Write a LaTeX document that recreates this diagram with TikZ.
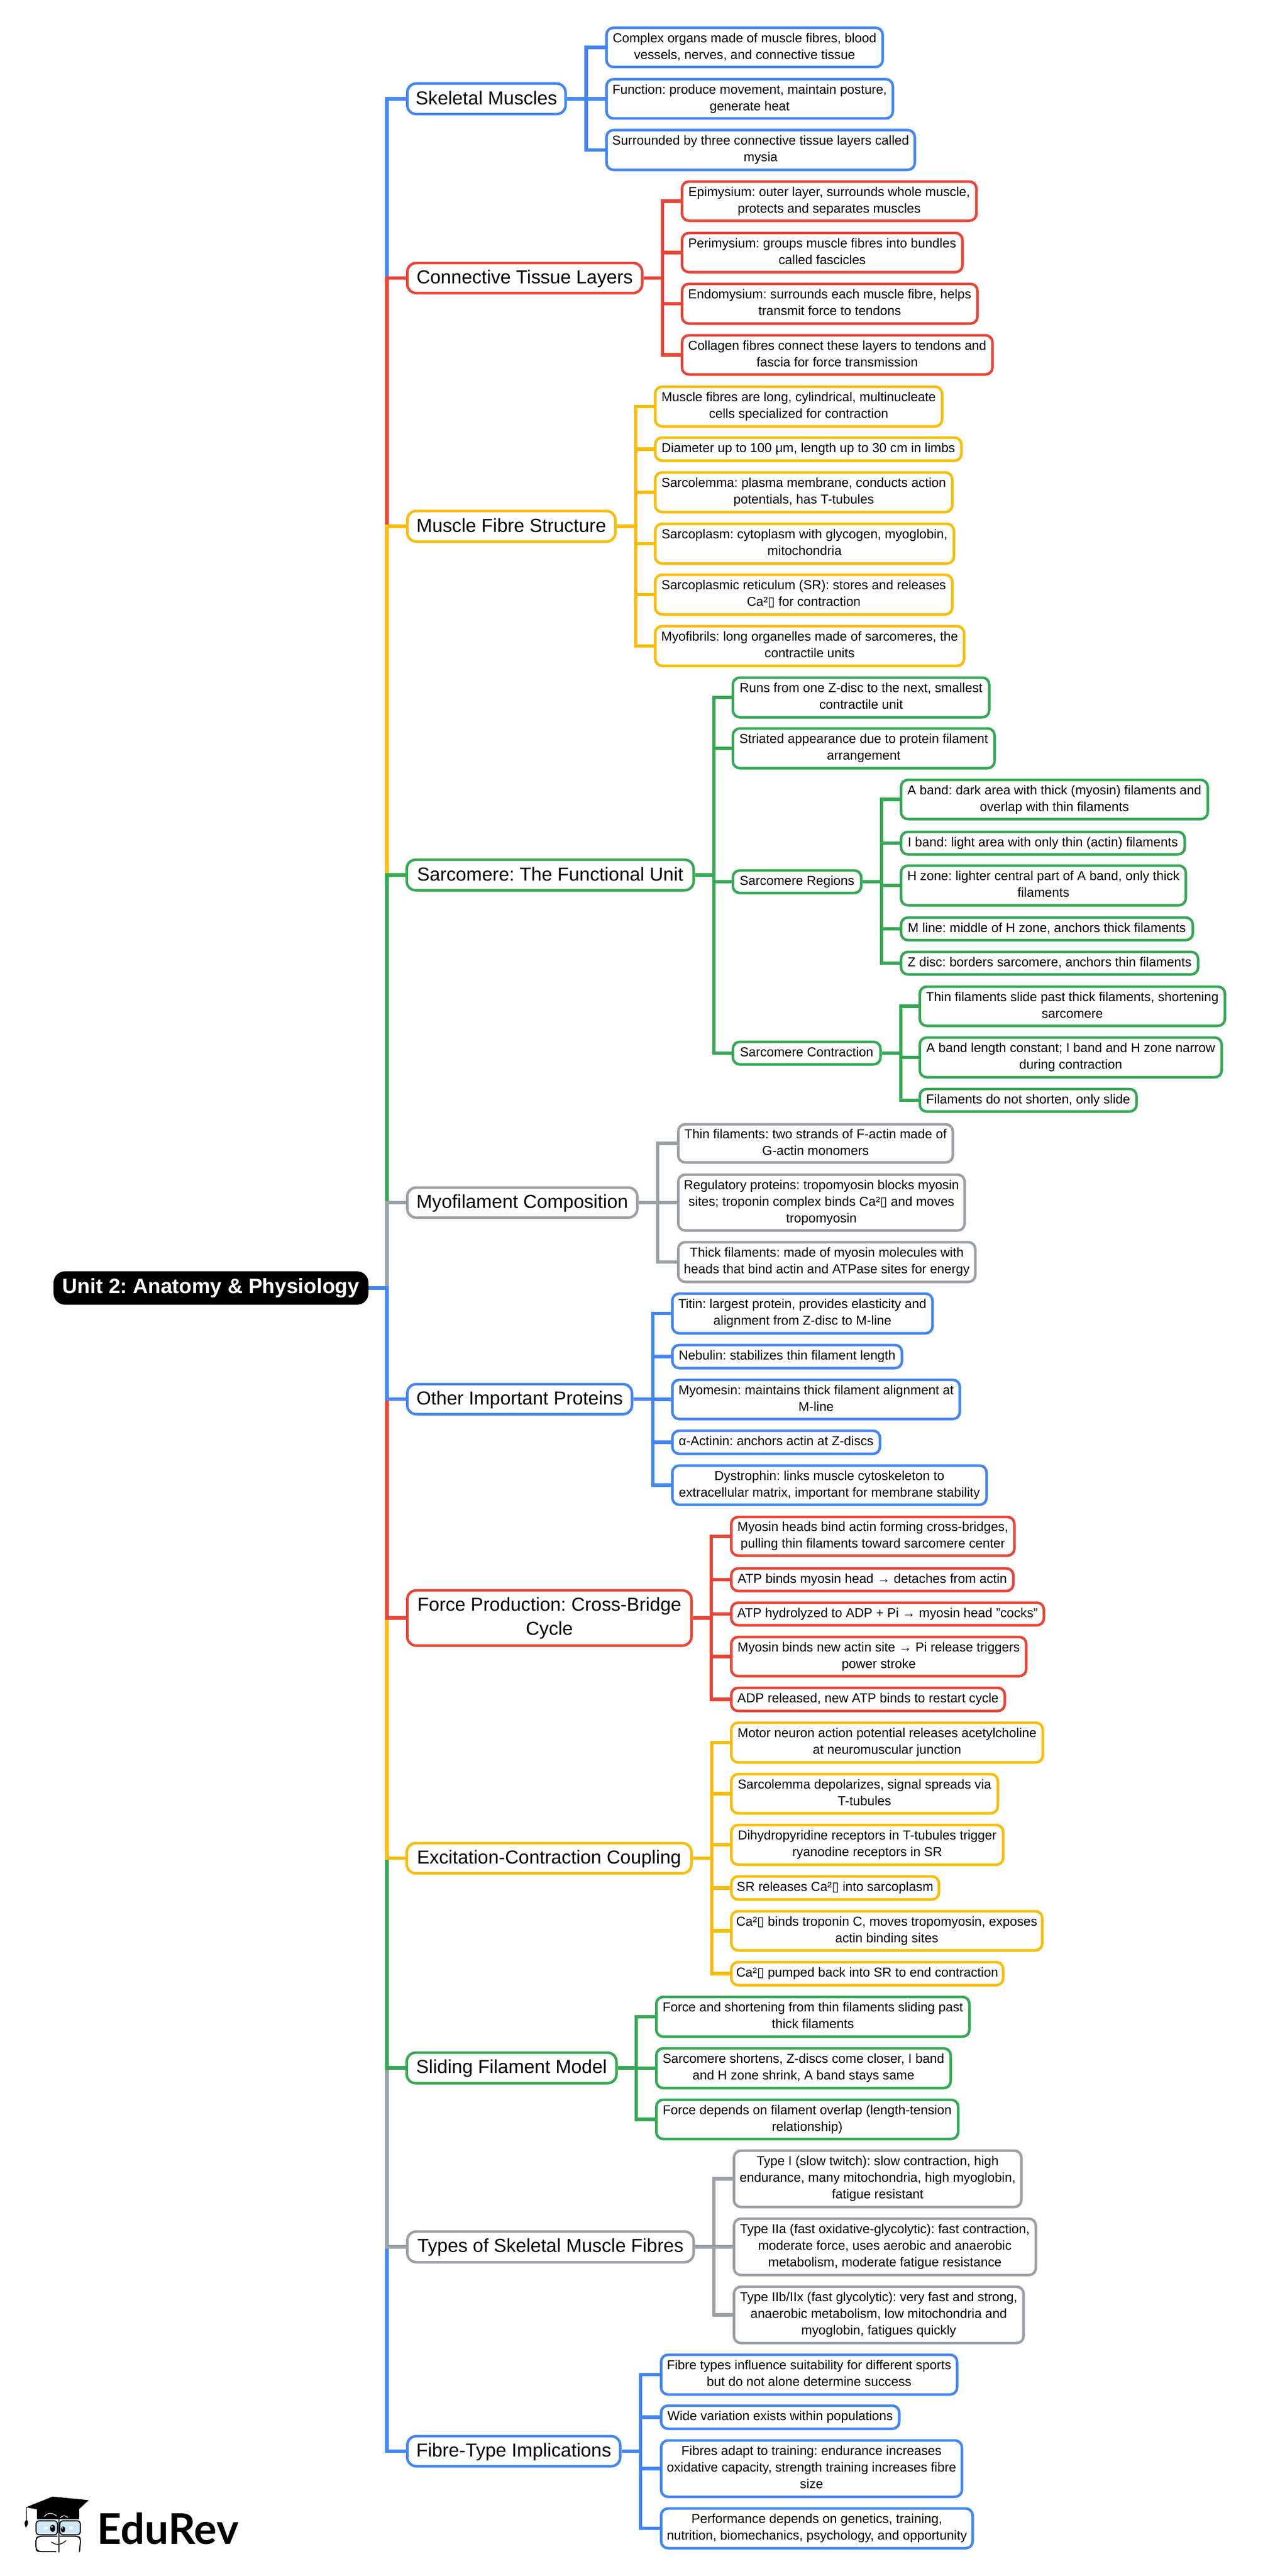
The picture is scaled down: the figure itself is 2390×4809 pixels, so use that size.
\documentclass[tikz,border=0pt]{standalone}
\usepackage{fontspec}
\setmainfont{Liberation Sans}
\newfontfamily\tofufont{DejaVu Sans}
\newfontfamily\logofont{Lato}
\definecolor{cblue}{HTML}{4285F4}
\definecolor{cred}{HTML}{EA4335}
\definecolor{cyel}{HTML}{FBBC04}
\definecolor{cgrn}{HTML}{34A853}
\definecolor{cgry}{HTML}{9AA0A6}
\definecolor{glass}{HTML}{CFE6F7}
\pgfdeclarelayer{wires}
\pgfsetlayers{wires,main}
\frenchspacing
\newcommand{\tofu}{{\tofufont ▯}}
\newcommand{\mk}[7]{%
  \pgfmathsetmacro{\cxx}{(#2-3+#4+2.5)/2}%
  \pgfmathsetmacro{\cyy}{(#3+#5)/2}%
  \pgfmathsetmacro{\ww}{#4+2.5-#2+3-4.8}%
  \pgfmathsetmacro{\hh}{#5+1.5-#3+1.5-4.8}%
  \node[#6,minimum width=\ww bp,minimum height=\hh bp] (#1) at (\cxx,\cyy) {#7};}
\newcommand{\lnk}[4]{\draw[wire,#4] (#1.east) -- (#1.east -| #3) |- (#2.west);}
\tikzset{
  box/.style={draw,fill=white,line width=4.8bp,inner sep=0pt,align=center,text=black},
  leaf/.style={box,rounded corners=13bp,font=\fontsize{24.2bp}{31bp}\selectfont\frenchspacing,
    execute at begin node={\rule{0pt}{18bp}},execute at end node={\rule[-5.4bp]{0pt}{5.4bp}}},
  mainb/.style={box,rounded corners=17bp,font=\fontsize{35.2bp}{45bp}\selectfont\frenchspacing,
    execute at begin node={\rule{0pt}{28bp}},execute at end node={\rule[-6.5bp]{0pt}{6.5bp}}},
  rootb/.style={draw=black,fill=black,line width=4.8bp,rounded corners=19bp,inner sep=0pt,text=white,font=\fontsize{38.8bp}{46bp}\selectfont\bfseries\frenchspacing,
    execute at begin node={\rule{0pt}{28bp}},execute at end node={\rule[-5bp]{0pt}{5bp}}},
  wire/.style={line width=6.2bp,line join=miter},
}
\begin{document}
\begin{tikzpicture}[x=1bp,y=-1bp]
\useasboundingbox (0,0) rectangle (2390,4809);

% bus coordinates
\coordinate (trunk) at (722.5,0);
\coordinate (b1) at (1094.5,0); \coordinate (b2) at (1237,0); \coordinate (b3) at (1187,0);
\coordinate (b4) at (1333,0); \coordinate (b4a) at (1646,0); \coordinate (b4b) at (1682,0);
\coordinate (b5) at (1228,0); \coordinate (b6) at (1219,0); \coordinate (b7) at (1328,0);
\coordinate (b8) at (1329,0); \coordinate (b9) at (1188,0); \coordinate (b10) at (1333,0);
\coordinate (b11) at (1196,0);

% nodes
\mk{root}{103}{2374.8}{685.5}{2434.2}{rootb}{Unit 2: Anatomy \& Physiology}

\mk{skel}{761}{155}{1056}{214}{mainb,draw=cblue}{Skeletal Muscles}
\mk{s1}{1133}{51}{1648}{126}{leaf,draw=cblue}{Complex organs made of muscle fibres, blood\\vessels, nerves, and connective tissue}
\mk{s2}{1133}{147}{1667}{222}{leaf,draw=cblue}{Function: produce movement, maintain posture,\\generate heat}
\mk{s3}{1133}{242}{1708}{318}{leaf,draw=cblue}{Surrounded by three connective tissue layers called\\mysia}

\mk{conn}{761}{490}{1199}{548}{mainb,draw=cred}{Connective Tissue Layers}
\mk{c1}{1274}{338}{1823}{413}{leaf,draw=cred}{Epimysium: outer layer, surrounds whole muscle,\\protects and separates muscles}
\mk{c2}{1274}{434}{1797}{509}{leaf,draw=cred}{Perimysium: groups muscle fibres into bundles\\called fascicles}
\mk{c3}{1274}{529}{1825}{605}{leaf,draw=cred}{Endomysium: surrounds each muscle fibre, helps\\transmit force to tendons}
\mk{c4}{1274}{625}{1853}{700}{leaf,draw=cred}{Collagen fibres connect these layers to tendons and\\fascia for force transmission}

\mk{fib}{761}{953}{1149}{1012}{mainb,draw=cyel}{Muscle Fibre Structure}
\mk{f1}{1224}{721}{1759}{797}{leaf,draw=cyel}{Muscle fibres are long, cylindrical, multinucleate\\cells specialized for contraction}
\mk{f2}{1224}{816}{1795}{861}{leaf,draw=cyel}{Diameter up to 100 μm, length up to 30 cm in limbs}
\mk{f3}{1224}{881}{1778}{957}{leaf,draw=cyel}{Sarcolemma: plasma membrane, conducts action\\potentials, has T-tubules}
\mk{f4}{1224}{977}{1781}{1053}{leaf,draw=cyel}{Sarcoplasm: cytoplasm with glycogen, myoglobin,\\mitochondria}
\mk{f5}{1224}{1072}{1778}{1148}{leaf,draw=cyel}{Sarcoplasmic reticulum (SR): stores and releases\\Ca²\tofu{} for contraction}
\mk{f6}{1224}{1168}{1800}{1244}{leaf,draw=cyel}{Myofibrils: long organelles made of sarcomeres, the\\contractile units}

\mk{sar}{760}{1604}{1295}{1663}{mainb,draw=cgrn}{Sarcomere: The Functional Unit}
\mk{r1}{1369}{1264}{1847}{1340}{leaf,draw=cgrn}{Runs from one Z-disc to the next, smallest\\contractile unit}
\mk{r2}{1369}{1359}{1857}{1435}{leaf,draw=cgrn}{Striated appearance due to protein filament\\arrangement}
\mk{reg}{1369}{1624}{1608}{1668}{leaf,draw=cgrn}{Sarcomere Regions}
\mk{g1}{1683}{1455}{2255}{1530}{leaf,draw=cgrn}{A band: dark area with thick (myosin) filaments and\\overlap with thin filaments}
\mk{g2}{1683}{1552}{2212}{1596}{leaf,draw=cgrn}{I band: light area with only thin (actin) filaments}
\mk{g3}{1683}{1615}{2214}{1691}{leaf,draw=cgrn}{H zone: lighter central part of A band, only thick\\filaments}
\mk{g4}{1683}{1712}{2227}{1756}{leaf,draw=cgrn}{M line: middle of H zone, anchors thick filaments}
\mk{g5}{1683}{1776}{2237}{1820}{leaf,draw=cgrn}{Z disc: borders sarcomere, anchors thin filaments}
\mk{con}{1369}{1944}{1644}{1988}{leaf,draw=cgrn}{Sarcomere Contraction}
\mk{k1}{1718}{1841}{2287}{1916}{leaf,draw=cgrn}{Thin filaments slide past thick filaments, shortening\\sarcomere}
\mk{k2}{1718}{1936}{2281}{2012}{leaf,draw=cgrn}{A band length constant; I band and H zone narrow\\during contraction}
\mk{k3}{1718}{2032}{2122}{2076}{leaf,draw=cgrn}{Filaments do not shorten, only slide}

\mk{myo}{761}{2216}{1190}{2274}{mainb,draw=cgry}{Myofilament Composition}
\mk{m1}{1267}{2098}{1779}{2171}{leaf,draw=cgry}{Thin filaments: two strands of F-actin made of\\G-actin monomers}
\mk{m2}{1267}{2192}{1801}{2298}{leaf,draw=cgry}{Regulatory proteins: tropomyosin blocks myosin\\sites; troponin complex binds Ca²\tofu{} and moves\\tropomyosin}
\mk{m3}{1267}{2318}{1821}{2394}{leaf,draw=cgry}{Thick filaments: made of myosin molecules with\\heads that bind actin and ATPase sites for energy}

\mk{oth}{761}{2583}{1180}{2641}{mainb,draw=cblue}{Other Important Proteins}
\mk{o1}{1256}{2414}{1741}{2490}{leaf,draw=cblue}{Titin: largest protein, provides elasticity and\\alignment from Z-disc to M-line}
\mk{o2}{1256}{2510}{1684}{2555}{leaf,draw=cblue}{Nebulin: stabilizes thin filament length}
\mk{o3}{1256}{2575}{1792}{2650}{leaf,draw=cblue}{Myomesin: maintains thick filament alignment at\\M-line}
\mk{o4}{1256}{2670}{1643}{2715}{leaf,draw=cblue}{α-Actinin: anchors actin at Z-discs}
\mk{o5}{1256}{2735}{1842}{2810}{leaf,draw=cblue}{Dystrophin: links muscle cytoskeleton to\\extracellular matrix, important for membrane stability}

\mk{frc}{761}{2968}{1291}{3073}{mainb,draw=cred}{Force Production: Cross-Bridge\\Cycle}
\mk{p1}{1366}{2831}{1894}{2905}{leaf,draw=cred}{Myosin heads bind actin forming cross-bridges,\\pulling thin filaments toward sarcomere center}
\mk{p2}{1366}{2927}{1892}{2971}{leaf,draw=cred}{ATP binds myosin head → detaches from actin}
\mk{p3}{1366}{2991}{1949}{3035}{leaf,draw=cred}{ATP hydrolyzed to ADP + Pi → myosin head "cocks"}
\mk{p4}{1366}{3055}{1916}{3130}{leaf,draw=cred}{Myosin binds new actin site → Pi release triggers\\power stroke}
\mk{p5}{1366}{3150}{1876}{3195}{leaf,draw=cred}{ADP released, new ATP binds to restart cycle}

\mk{exc}{760}{3440}{1291}{3498}{mainb,draw=cyel}{Excitation-Contraction Coupling}
\mk{e1}{1366}{3215}{1947}{3291}{leaf,draw=cyel}{Motor neuron action potential releases acetylcholine\\at neuromuscular junction}
\mk{e2}{1366}{3311}{1863}{3386}{leaf,draw=cyel}{Sarcolemma depolarizes, signal spreads via\\T-tubules}
\mk{e3}{1366}{3406}{1873}{3482}{leaf,draw=cyel}{Dihydropyridine receptors in T-tubules trigger\\ryanodine receptors in SR}
\mk{e4}{1366}{3502}{1753}{3547}{leaf,draw=cyel}{SR releases Ca²\tofu{} into sarcoplasm}
\mk{e5}{1366}{3567}{1946}{3642}{leaf,draw=cyel}{Ca²\tofu{} binds troponin C, moves tropomyosin, exposes\\actin binding sites}
\mk{e6}{1366}{3662}{1873}{3707}{leaf,draw=cyel}{Ca²\tofu{} pumped back into SR to end contraction}

\mk{sld}{760}{3831}{1151}{3890}{mainb,draw=cgrn}{Sliding Filament Model}
\mk{l1}{1226}{3727}{1810}{3803}{leaf,draw=cgrn}{Force and shortening from thin filaments sliding past\\thick filaments}
\mk{l2}{1226}{3823}{1775}{3899}{leaf,draw=cgrn}{Sarcomere shortens, Z-discs come closer, I band\\and H zone shrink, A band stays same}
\mk{l3}{1226}{3919}{1789}{3994}{leaf,draw=cgrn}{Force depends on filament overlap (length-tension\\relationship)}

\mk{typ}{761}{4165}{1295}{4224}{mainb,draw=cgry}{Types of Skeletal Muscle Fibres}
\mk{t1}{1371}{4014}{1907}{4121}{leaf,draw=cgry}{Type I (slow twitch): slow contraction, high\\endurance, many mitochondria, high myoglobin,\\fatigue resistant}
\mk{t2}{1371}{4141}{1934}{4248}{leaf,draw=cgry}{Type IIa (fast oxidative-glycolytic): fast contraction,\\moderate force, uses aerobic and anaerobic\\metabolism, moderate fatigue resistance}
\mk{t3}{1371}{4268}{1911}{4375}{leaf,draw=cgry}{Type IIb/IIx (fast glycolytic): very fast and strong,\\anaerobic metabolism, low mitochondria and\\myoglobin, fatigues quickly}

\mk{imp}{761}{4547}{1158}{4605}{mainb,draw=cblue}{Fibre-Type Implications}
\mk{i1}{1235}{4395}{1787}{4471}{leaf,draw=cblue}{Fibre types influence suitability for different sports\\but do not alone determine success}
\mk{i2}{1235}{4490}{1679}{4535}{leaf,draw=cblue}{Wide variation exists within populations}
\mk{i3}{1235}{4555}{1796}{4662}{leaf,draw=cblue}{Fibres adapt to training: endurance increases\\oxidative capacity, strength training increases fibre\\size}
\mk{i4}{1235}{4682}{1816}{4758}{leaf,draw=cblue}{Performance depends on genetics, training,\\nutrition, biomechanics, psychology, and opportunity}

% connectors, behind the nodes
\begin{pgfonlayer}{wires}
\fill[white] (0,0) rectangle (2390,4809);
\lnk{root}{skel}{trunk}{cblue}
\lnk{root}{conn}{trunk}{cred}
\lnk{root}{fib}{trunk}{cyel}
\lnk{root}{sar}{trunk}{cgrn}
\lnk{root}{myo}{trunk}{cgry}
\lnk{root}{imp}{trunk}{cblue}
\lnk{root}{typ}{trunk}{cgry}
\lnk{root}{sld}{trunk}{cgrn}
\lnk{root}{exc}{trunk}{cyel}
\lnk{root}{frc}{trunk}{cred}
\lnk{root}{oth}{trunk}{cblue}
\foreach \c in {s1,s2,s3} {\lnk{skel}{\c}{b1}{cblue}}
\foreach \c in {c1,c2,c3,c4} {\lnk{conn}{\c}{b2}{cred}}
\foreach \c in {f1,f2,f3,f4,f5,f6} {\lnk{fib}{\c}{b3}{cyel}}
\foreach \c in {r1,r2,reg,con} {\lnk{sar}{\c}{b4}{cgrn}}
\foreach \c in {g1,g2,g3,g4,g5} {\lnk{reg}{\c}{b4a}{cgrn}}
\foreach \c in {k1,k2,k3} {\lnk{con}{\c}{b4b}{cgrn}}
\foreach \c in {m1,m2,m3} {\lnk{myo}{\c}{b5}{cgry}}
\foreach \c in {o1,o2,o3,o4,o5} {\lnk{oth}{\c}{b6}{cblue}}
\foreach \c in {p1,p2,p3,p4,p5} {\lnk{frc}{\c}{b7}{cred}}
\foreach \c in {e1,e2,e3,e4,e5,e6} {\lnk{exc}{\c}{b8}{cyel}}
\foreach \c in {l1,l2,l3} {\lnk{sld}{\c}{b9}{cgrn}}
\foreach \c in {t1,t2,t3} {\lnk{typ}{\c}{b10}{cgry}}
\foreach \c in {i1,i2,i3,i4} {\lnk{imp}{\c}{b11}{cblue}}
\end{pgfonlayer}

% logo
\begin{scope}[shift={(30,4640)},x=0.3333bp,y=-0.3333bp]
\fill[black] (118,130) -- (118,190) -- (355,190) -- (355,130) -- cycle;
\fill[black] (55,122) -- (205,62) -- (407,82) -- (312,170) -- cycle;
\draw[white,line width=1.2bp] (158,175) .. controls (175,150) and (205,150) .. (228,172);
\draw[white,line width=1.2bp] (248,182) .. controls (260,165) and (275,165) .. (290,180);
\draw[black,line width=1.2bp] (57,122) -- (59,195);
\fill[black] (59,192) .. controls (45,200) and (45,215) .. (55,236) .. controls (70,215) and (72,200) .. (59,192) -- cycle;
\draw[black,line width=2bp,fill=glass,rounded corners=6bp] (112,198) rectangle (232,276);
\draw[black,line width=2bp,fill=glass,rounded corners=6bp] (245,198) rectangle (360,276);
\draw[black,line width=2bp,rounded corners=6bp] (232,284) -- (125,284) -- (110,300) -- (112,360) -- (125,370) -- (225,370);
\draw[black,line width=2bp,rounded corners=6bp] (245,284) -- (350,284) -- (362,300) -- (355,372);
\draw[black,line width=2bp] (240,190) -- (240,374);
\fill[black] (205,240) ellipse (14 and 20);
\fill[black] (263,246) ellipse (12 and 17);
\fill[white] (201,232) circle (5);
\fill[white] (259,238) circle (4);
\fill[white] (157,230) rectangle (177,246);
\fill[white] (297,230) rectangle (317,246);
\draw[black,line width=1.4bp] (198,316) .. controls (225,338) and (255,332) .. (280,308);
\node[inner sep=0pt,anchor=base west,font=\fontsize{79bp}{79bp}\logofont\bfseries,text=black] (logo) at (455,327) {EduRev};
\end{scope}
\end{tikzpicture}
\end{document}
